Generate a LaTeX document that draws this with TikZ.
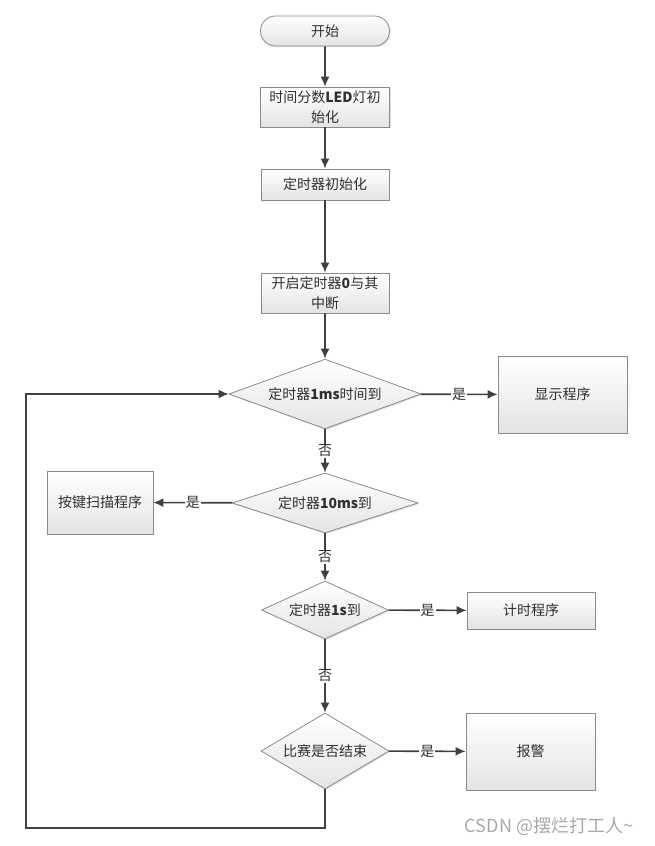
\documentclass[tikz,border=0pt]{standalone}
\usepackage{fontspec}
\newfontfamily\cjk{Noto Sans CJK SC}
\usetikzlibrary{shapes.geometric,shapes.misc,arrows.meta,shadows}
\definecolor{linegray}{HTML}{404040}
\definecolor{edgegray}{HTML}{8A8A8A}
\definecolor{textgray}{HTML}{303030}
\definecolor{fillgray}{HTML}{E4E4E4}
\definecolor{markgray}{HTML}{A8A8A8}

\begin{document}
\begin{tikzpicture}[x=1pt,y=-1pt, every node/.style={font=\cjk\fontsize{14}{20}\selectfont, text=textgray}]
    \tikzstyle{marr}=[line width=1.6pt, draw=linegray, -{Latex[length=10pt,width=9pt]}]
    \tikzstyle{pbox}=[draw=edgegray, line width=0.8pt, top color=white, bottom color=fillgray, inner sep=0pt, align=center,
        drop shadow={shadow xshift=1.2pt, shadow yshift=-1.2pt, opacity=0.25}]
    \tikzstyle{dbox}=[pbox, diamond, aspect=2]
    \tikzstyle{lab}=[fill=white, inner sep=1pt]

    \useasboundingbox (0,0) rectangle (655,846);

    % main column
    \node[pbox, rounded rectangle, minimum width=129pt, minimum height=30pt] (start) at (325,31) {开始};
    \node[pbox, minimum width=129pt, minimum height=40pt] (init) at (325,107) {时间分数\textbf{LED}灯初\\始化};
    \node[pbox, minimum width=128pt, minimum height=31pt] (tinit) at (325,184.5) {定时器初始化};
    \node[pbox, minimum width=128pt, minimum height=40pt] (ton) at (325,293) {开启定时器\textbf{0}与其\\中断};

    % decisions
    \node[dbox, minimum width=192pt, minimum height=50pt] (d1) at (325,394) {定时器\textbf{1ms}时间到};
    \node[dbox, minimum width=186pt, minimum height=60pt] (d2) at (325,503) {定时器\textbf{10ms}到};
    \node[dbox, minimum width=127pt, minimum height=58pt] (d3) at (325,610) {定时器\textbf{1s}到};
    \node[dbox, minimum width=128pt, minimum height=76pt] (d4) at (325,751) {比赛是否结束};

    % side boxes
    \node[pbox, minimum width=129pt, minimum height=77pt] (show) at (562.5,394.5) {显示程序};
    \node[pbox, minimum width=106pt, minimum height=63pt] (keys) at (100,502.5) {按键扫描程序};
    \node[pbox, minimum width=128pt, minimum height=37pt] (count) at (531,610.5) {计时程序};
    \node[pbox, minimum width=129pt, minimum height=77pt] (alarm) at (530.5,751.5) {报警};

    \coordinate (loopbl) at (26,828);

    \draw[marr] (start) -- (init);
    \draw[marr] (init) -- (tinit);
    \draw[marr] (tinit) -- (ton);
    \draw[marr] (ton) -- (d1);

    \draw[marr] (d1) -- node[lab] {是} (show);
    \draw[marr] (d2) -- node[lab] {是} (keys);
    \draw[marr] (d3) -- node[lab] {是} (count);
    \draw[marr] (d4) -- node[lab] {是} (alarm);

    \draw[marr] (d1) -- node[lab] {否} (d2);
    \draw[marr] (d2) -- node[lab] {否} (d3);
    \draw[marr] (d3) -- node[lab] {否} (d4);

    % back to the first test
    \draw[marr] (d4.south) |- (loopbl) |- (d1.west);

    \node[text=markgray, font=\cjk\fontsize{18}{20}\selectfont] (mark) at (549,826) {CSDN @摆烂打工人\textasciitilde};
\end{tikzpicture}
\end{document}
